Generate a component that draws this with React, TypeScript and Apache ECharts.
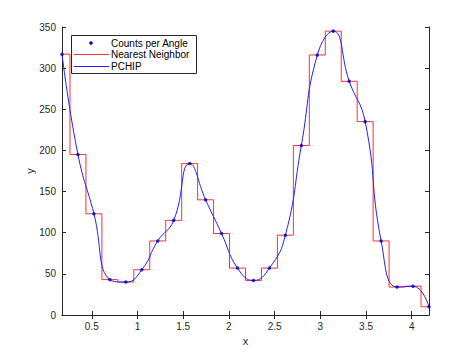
import React, { useEffect, useRef } from "react";
import * as echarts from "echarts";

// Sample angles (degrees) and counts per angle
const angleDeg = [10, 20, 30, 40, 50, 60, 70, 80, 90, 100, 110, 120, 130, 140, 150, 160, 170, 180, 190, 200, 210, 220, 230, 240];
const counts = [317, 195, 123, 43, 40, 55, 90, 115, 184, 140, 99, 57, 42, 57, 97, 206, 316, 345, 284, 235, 90, 34, 35, 10];
const xTicks = [0.5, 1, 1.5, 2, 2.5, 3, 3.5, 4];
const yTicks = [0, 50, 100, 150, 200, 250, 300, 350];

const FONT = "'Liberation Sans', Arial, Helvetica, sans-serif";
const AX = "#262626";

export default function App() {
  const ref = useRef<HTMLDivElement>(null);
  useEffect(() => {
    if (!ref.current) return;
    const chart = echarts.init(ref.current, undefined, { renderer: "svg" });
    const pts = angleDeg.map((d, i) => [(d * Math.PI) / 180, counts[i]]);
    const xMin = (angleDeg[0] * Math.PI) / 180;
    const xMax = (angleDeg[angleDeg.length - 1] * Math.PI) / 180;
    const tickStyle = { show: true, inside: true, length: 4, lineStyle: { color: AX, width: 1 } };
    const xBase = {
      type: "value" as const,
      min: xMin,
      max: xMax,
      splitLine: { show: false },
      axisLine: { show: true, lineStyle: { color: AX, width: 1 } },
    };
    const yBase = {
      type: "value" as const,
      min: yTicks[0],
      max: yTicks[yTicks.length - 1],
      interval: 50,
      splitLine: { show: false },
      axisLine: { show: true, lineStyle: { color: AX, width: 1 } },
    };
    chart.setOption({
      animation: false,
      backgroundColor: "#ffffff",
      grid: { left: 62, right: 45, top: 27, bottom: 40 },
      xAxis: [
        {
          ...xBase,
          position: "bottom",
          name: "x",
          nameLocation: "middle",
          nameGap: 20,
          nameMoveOverlap: false,
          nameTextStyle: { color: AX, fontSize: 11, fontFamily: FONT },
          axisTick: { ...tickStyle, customValues: xTicks },
          axisLabel: { color: AX, fontSize: 10, fontFamily: FONT, margin: 6, customValues: xTicks },
        },
        {
          ...xBase,
          position: "top",
          axisTick: { ...tickStyle, customValues: xTicks },
          axisLabel: { show: false, customValues: xTicks },
        },
      ],
      yAxis: [
        {
          ...yBase,
          position: "left",
          name: "y",
          nameLocation: "middle",
          nameGap: 27,
          nameMoveOverlap: false,
          nameTextStyle: { color: AX, fontSize: 11, fontFamily: FONT },
          axisTick: tickStyle,
          axisLabel: { color: AX, fontSize: 10, fontFamily: FONT, margin: 6 },
        },
        {
          ...yBase,
          position: "right",
          axisTick: tickStyle,
          axisLabel: { show: false },
        },
      ],
      series: [
        {
          name: "Nearest Neighbor",
          type: "line",
          step: "middle",
          data: pts,
          symbol: "none",
          lineStyle: { color: "#ff3030", width: 1 },
          z: 2,
        },
        {
          name: "PCHIP",
          type: "line",
          data: pts,
          smooth: 0.5,
          symbol: "none",
          lineStyle: { color: "#2020ff", width: 1 },
          z: 3,
        },
        {
          name: "Counts per Angle",
          type: "scatter",
          data: pts,
          symbol: "circle",
          symbolSize: 3.5,
          clip: false,
          itemStyle: { color: "#0000c0" },
          z: 4,
        },
      ],
      graphic: [
        {
          type: "group",
          left: 71,
          top: 35,
          children: [
            { type: "rect", shape: { x: 0.5, y: 0.5, width: 125, height: 38 }, style: { fill: "#ffffff", stroke: AX, lineWidth: 1 } },
            { type: "circle", shape: { cx: 20, cy: 8, r: 1.8 }, style: { fill: "#0000c0" } },
            { type: "text", style: { x: 40, y: 8, text: "Counts per Angle", fill: "#000000", fontSize: 10, fontFamily: FONT, verticalAlign: "middle" } },
            { type: "line", shape: { x1: 3, y1: 19.5, x2: 38, y2: 19.5 }, style: { stroke: "#ff3030", lineWidth: 1 } },
            { type: "text", style: { x: 40, y: 19.5, text: "Nearest Neighbor", fill: "#000000", fontSize: 10, fontFamily: FONT, verticalAlign: "middle" } },
            { type: "line", shape: { x1: 3, y1: 31.5, x2: 38, y2: 31.5 }, style: { stroke: "#2020ff", lineWidth: 1 } },
            { type: "text", style: { x: 40, y: 31.5, text: "PCHIP", fill: "#000000", fontSize: 10, fontFamily: FONT, verticalAlign: "middle" } },
          ],
        },
      ],
    });
    return () => chart.dispose();
  }, []);
  return <div ref={ref} style={{ position: "fixed", left: 0, top: 0, width: 474, height: 355 }} />;
}
